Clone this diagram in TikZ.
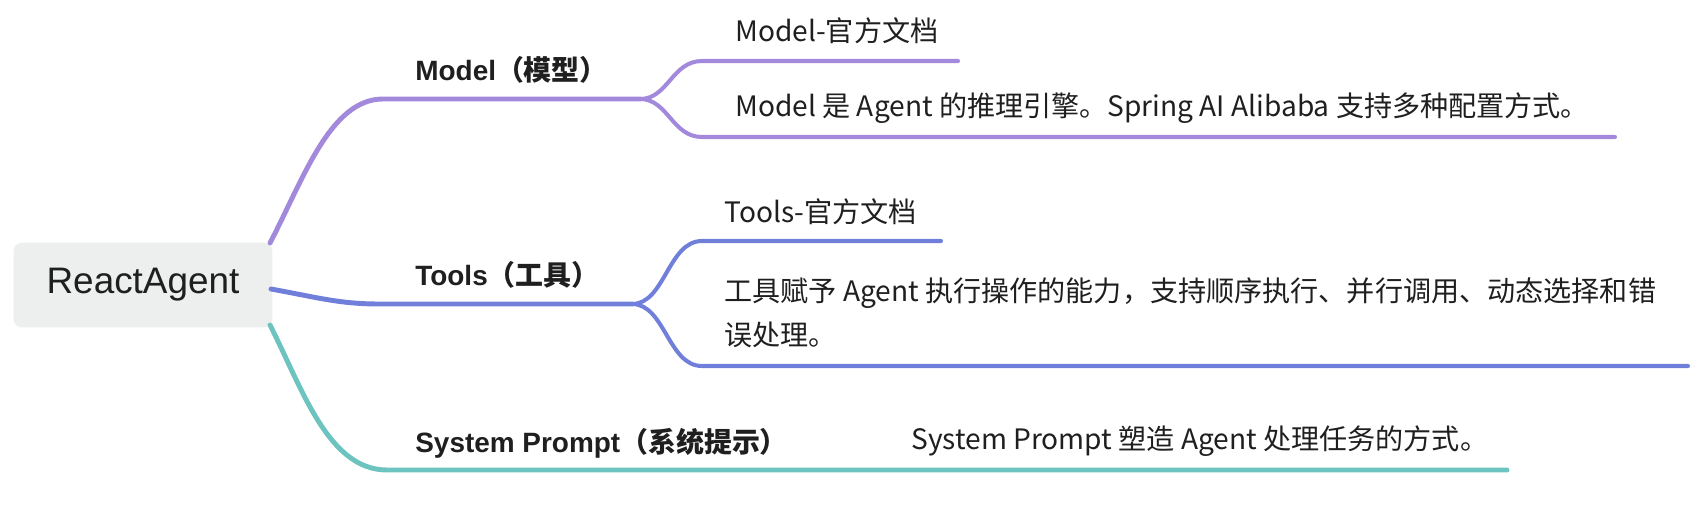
\documentclass[tikz,border=0pt]{standalone}
\usepackage{fontspec}
\setmainfont{Liberation Sans}
\newfontfamily\cjk{Noto Sans CJK SC}
\usepackage{tikz}
\usetikzlibrary{positioning, calc}
\definecolor{mind-purple}{HTML}{A389DB}
\definecolor{mind-blue}{HTML}{6F7FDA}
\definecolor{mind-teal}{HTML}{6CC3BF}
\definecolor{mind-grey}{HTML}{EDEFEE}
\definecolor{mind-text}{HTML}{1F1F1F}

\begin{document}
\begin{tikzpicture}[
    x=0.02cm, y=-0.02cm,
    rootbox/.style={rectangle, rounded corners=5pt, fill=mind-grey, minimum width=5.18cm, minimum height=1.7cm, text=mind-text, font=\fontsize{21}{25}\selectfont},
    topic/.style={anchor=west, inner sep=0pt, text=mind-text, font=\fontsize{15.9}{19}\selectfont\bfseries},
    leaf/.style={anchor=west, inner sep=0pt, text=mind-text, align=left, font=\cjk\fontsize{16}{22.1}\selectfont},
    branch/.style={line width=2.8pt, line cap=round},
    twig/.style={line width=2.3pt, line cap=round}
]
\useasboundingbox (0,0) rectangle (1700,514);

% Root
\node[rootbox] (root) at (143,285) {ReactAgent};

% Model
\node[topic] (model) at (415,70) {Model{\cjk（模型）}};
\node[leaf] (modeldoc) at (735,31) {Model-官方文档};
\node[leaf] (modeldesc) at (735,108) {Model 是 Agent 的推理引擎。Spring AI Alibaba 支持多种配置方式。};

\coordinate (m0) at (270,243);
\coordinate (m1) at (383,99);
\coordinate (m2) at (640,99);
\coordinate (m3) at (702,61);
\coordinate (m4) at (958,61);
\coordinate (m5) at (702,137);
\coordinate (m6) at (1615,137);

\draw[branch, mind-purple] (m0) .. controls (303,180) and (330,99) .. (m1) -- (m2);
\draw[twig, mind-purple] (m2) .. controls (668,99) and (672,61) .. (m3) -- (m4);
\draw[twig, mind-purple] (m2) .. controls (668,99) and (672,137) .. (m5) -- (m6);

% Tools
\node[topic] (tools) at (415,275) {Tools{\cjk（工具）}};
\node[leaf] (toolsdoc) at (724,212) {Tools-官方文档};
\node[leaf] (toolsdesc) at (724,312.5) {工具赋予 Agent 执行操作的能力，支持顺序执行、并行调用、动态选择和错\\[3pt]误处理。};

\coordinate (t0) at (271,289);
\coordinate (t1) at (380,304);
\coordinate (t2) at (632,304);
\coordinate (t3) at (702,241);
\coordinate (t4) at (941,241);
\coordinate (t5) at (702,366);
\coordinate (t6) at (1688,366);

\draw[branch, mind-blue] (t0) .. controls (320,298) and (340,304) .. (t1) -- (t2);
\draw[twig, mind-blue] (t2) .. controls (665,304) and (668,241) .. (t3) -- (t4);
\draw[twig, mind-blue] (t2) .. controls (665,304) and (668,366) .. (t5) -- (t6);

% System Prompt
\node[topic] (prompt) at (415,443) {System Prompt{\cjk（系统提示）}};
\node[leaf] (promptdesc) at (911,441) {System Prompt 塑造 Agent 处理任务的方式。};

\coordinate (s0) at (270,325);
\coordinate (s1) at (387,470);
\coordinate (s2) at (1507,470);

\draw[branch, mind-teal] (s0) .. controls (302,388) and (328,470) .. (s1) -- (s2);

\end{tikzpicture}
\end{document}
